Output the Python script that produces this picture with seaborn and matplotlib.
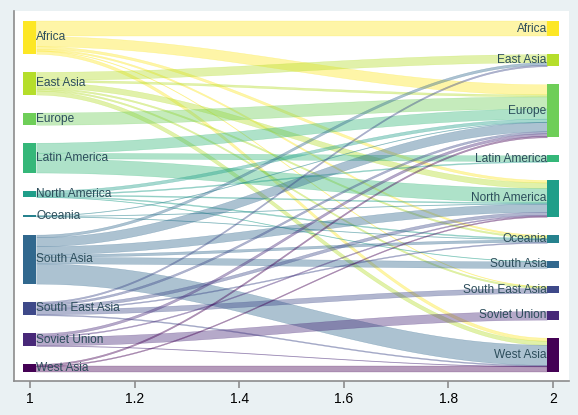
### Sankey of migration flows between world regions ###

import matplotlib
matplotlib.use("Agg")
import matplotlib.pyplot as plt
import numpy as np
import seaborn as sns

regions = ["Africa", "East Asia", "Europe", "Latin America", "North America",
           "Oceania", "South Asia", "South East Asia", "Soviet Union", "West Asia"]

# rows = origin (x=1), columns = destination (x=2), same order as regions
flows = [
    [15.0, 0.0, 10.0, 0.0, 2.5, 1.5, 0.0, 0.5, 0.0, 3.0],
    [0.0, 8.0, 2.0, 0.0, 5.5, 1.5, 0.0, 1.5, 0.0, 4.0],
    [0.0, 0.0, 12.0, 0.0, 0.0, 0.0, 0.0, 0.0, 0.0, 0.0],
    [0.0, 0.0, 10.0, 5.5, 14.0, 0.0, 0.0, 0.0, 0.0, 0.0],
    [0.0, 0.0, 3.0, 1.0, 1.0, 1.0, 0.5, 0.0, 0.0, 0.0],
    [0.0, 0.0, 0.5, 0.0, 0.5, 0.5, 0.0, 0.0, 0.0, 0.0],
    [0.0, 2.5, 9.0, 0.0, 8.0, 2.5, 6.5, 0.0, 0.0, 20.0],
    [0.0, 1.5, 2.0, 0.0, 3.0, 1.0, 0.0, 5.0, 0.0, 1.0],
    [0.0, 0.0, 2.5, 0.0, 1.0, 0.0, 0.0, 0.0, 8.5, 0.5],
    [0.0, 0.0, 1.5, 0.0, 1.0, 0.0, 0.0, 0.0, 0.0, 5.5],
]

x_ticks = [1, 1.2, 1.4, 1.6, 1.8, 2]
x_tick_labels = ["1", "1.2", "1.4", "1.6", "1.8", "2"]


def stack(sizes, gap):
    tops = []
    y = 0.0
    for s in sizes:
        tops.append(y)
        y += s + gap
    return np.array(tops)


def sankey():
    mat = np.array(flows)
    n = len(regions)
    out_tot = mat.sum(axis=1)
    in_tot = mat.sum(axis=0)
    total = mat.sum()
    gap = 18.0 * total / 189.0
    height = total + (n - 1) * gap

    left_top = stack(out_tot, gap)
    right_top = stack(in_tot, gap)

    # full viridis range, yellow first
    palette = sns.color_palette(plt.cm.viridis(np.linspace(0, 1, n)))[::-1]

    sns.set_style("white")
    plt.rcParams["font.family"] = ["Liberation Sans", "DejaVu Sans"]
    fig = plt.figure(figsize=(5.78, 4.15), dpi=100, facecolor="#eaf1f3")
    ax = fig.add_axes([14 / 578, 34 / 415, 555 / 578, 370 / 415])
    ax.set_facecolor("white")

    bw = 0.012
    x0, x1 = 1 + bw, 2 - bw
    xs = np.linspace(x0, x1, 200)
    t = (xs - x0) / (x1 - x0)
    s = (1 - np.cos(np.pi * t)) / 2

    # offsets inside each node
    out_off = left_top.copy()
    in_off = right_top.copy()
    for i in range(n):
        for j in range(n):
            v = mat[i, j]
            if v <= 0:
                continue
            ya = out_off[i]
            yb = in_off[j]
            out_off[i] += v
            in_off[j] += v
            yt = ya + (yb - ya) * s
            ax.fill_between(xs, yt, yt + v, color=palette[i], alpha=0.4,
                            linewidth=0.3, edgecolor=palette[i])

    # node bars and labels
    for i in range(n):
        ax.fill_between([1 - bw - 0.002, 1 + bw], left_top[i], left_top[i] + out_tot[i],
                        color=palette[i], linewidth=0)
        ax.fill_between([2 - bw, 2 + bw], right_top[i], right_top[i] + in_tot[i],
                        color=palette[i], linewidth=0)
        ax.text(1 + bw, left_top[i] + out_tot[i] / 2, regions[i], ha="left",
                va="center", fontsize=8.6, color="#2c4d5b")
        ax.text(2 - bw, right_top[i] + in_tot[i] / 2, regions[i], ha="right",
                va="center", fontsize=8.6, color="#2c4d5b")

    px = height / 351.0
    ax.set_ylim(height + 9 * px, -10 * px)
    ax.set_xlim(1 - 16 / 523, 2 + 16 / 523)
    ax.set_xticks(x_ticks)
    ax.set_xticklabels(x_tick_labels, fontsize=10, color="black")
    ax.set_yticks([])
    ax.tick_params(axis="x", bottom=True, direction="out", length=5, width=1.2,
                   color="#8c8c8c", pad=3)
    for side in ["top", "right"]:
        ax.spines[side].set_visible(False)
    for side in ["left", "bottom"]:
        ax.spines[side].set_color("#8c8c8c")
        ax.spines[side].set_linewidth(1.2)

    plt.savefig("out.png", dpi=100, facecolor=fig.get_facecolor())


if __name__ == "__main__":
    sankey()
